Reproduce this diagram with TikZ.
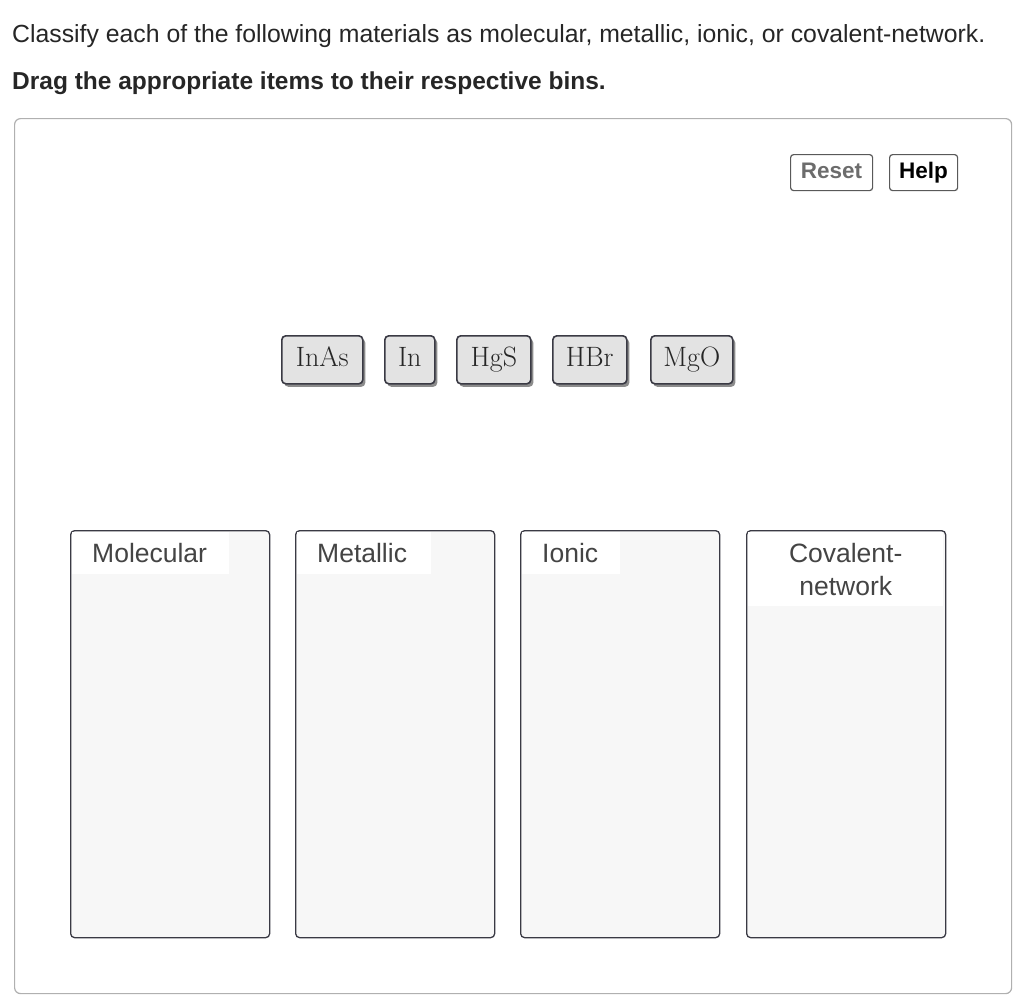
\documentclass[tikz,border=0pt]{standalone}
\usepackage{fontspec}
\setmainfont{Liberation Sans}
\newfontfamily\lmfont{Latin Modern Roman}
\usetikzlibrary{shadows}
\definecolor{bordergray}{HTML}{B0B0B0}
\definecolor{binfill}{HTML}{F7F7F7}
\definecolor{itemfill}{HTML}{E3E3E3}
\definecolor{dark}{HTML}{3A3A44}
\definecolor{txtgray}{HTML}{444444}
\tikzset{
  item/.style={draw=dark, line width=1.6pt, fill=itemfill, rounded corners=4pt, minimum height=48pt, inner sep=0pt, anchor=north west, text height=19pt, text depth=6pt,
    drop shadow={shadow xshift=2.5pt, shadow yshift=-3pt, fill=black, opacity=0.45}, font=\lmfont\fontsize{28}{30}\selectfont, text=black!85},
  bin/.style={draw=dark, line width=1.3pt, fill=binfill, rounded corners=4pt, minimum width=199pt, minimum height=407pt, anchor=north west, inner sep=0pt},
  binlabel/.style={fill=white, anchor=north west, inner sep=0pt, font=\fontsize{26.5}{33}\selectfont, text=txtgray},
  btn/.style={draw=gray!70!black, line width=1.2pt, rounded corners=3pt, minimum height=36pt, anchor=north west, inner sep=0pt, text height=16pt, text depth=5pt, font=\bfseries\fontsize{22.5}{24}\selectfont}
}
\begin{document}
\begin{tikzpicture}[x=1pt,y=-1pt]
\useasboundingbox (0,0) rectangle (1024,1005);
\node[anchor=base west, inner sep=0pt, font=\fontsize{24.8}{28}\selectfont, text=black!85] (q) at (12,42) {Classify each of the following materials as molecular, metallic, ionic, or covalent-network.};
\node[anchor=base west, inner sep=0pt, font=\bfseries\fontsize{24.5}{28}\selectfont, text=black!85] (d) at (12,89) {Drag the appropriate items to their respective bins.};
\node[draw=bordergray, line width=1.2pt, rounded corners=6pt, minimum width=997pt, minimum height=875pt, anchor=north west, inner sep=0pt] (frame) at (14,118) {};
\node[btn, minimum width=82pt, text=gray!85!black] (reset) at (790,154) {Reset};
\node[btn, minimum width=68pt, text=black] (help) at (889,154) {Help};
\node[item, minimum width=81pt] (i1) at (281,335) {InAs};
\node[item, minimum width=50pt] (i2) at (384,335) {In};
\node[item, minimum width=74pt] (i3) at (456,335) {HgS};
\node[item, minimum width=74pt] (i4) at (552,335) {HBr};
\node[item, minimum width=82pt] (i5) at (650,335) {MgO};
\foreach \x/\n in {70/b1,295/b2,520/b3,746/b4}{\node[bin] (\n) at (\x,530) {};}
\node[binlabel, minimum width=157pt, minimum height=42pt, text width=157pt, align=left] (l1) at (72,532) {\hspace*{20pt}Molecular};
\node[binlabel, minimum width=134pt, minimum height=42pt, text width=134pt, align=left] (l2) at (297,532) {\hspace*{20pt}Metallic};
\node[binlabel, minimum width=98pt, minimum height=42pt, text width=98pt, align=left] (l3) at (522,532) {\hspace*{20pt}Ionic};
\node[binlabel, minimum width=195pt, minimum height=74pt, text width=195pt, align=center] (l4) at (748,532) {Covalent-\\network};
\end{tikzpicture}
\end{document}
